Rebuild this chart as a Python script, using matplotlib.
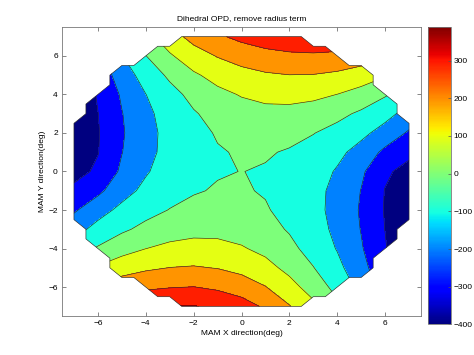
import numpy as np
import matplotlib
matplotlib.use('Agg')
import matplotlib.pyplot as plt
from matplotlib.patches import Polygon
from matplotlib import colors as mcolors

plt.rcParams['font.family'] = ['Liberation Sans', 'DejaVu Sans']
plt.rcParams['font.size'] = 6

# field grid (deg)
x_deg = [-7, -6, -5, -4, -3, -2, -1, 0, 1, 2, 3, 4, 5, 6, 7]
y_deg = [7, 6, 5, 4, 3, 2, 1, 0, -1, -2, -3, -4, -5, -6, -7]

# dihedral OPD, one row per y (top row first)
opd = [
    [-321, -182,  -52,   60,  151,  225,  277,  316,  345,  365,  376,  373,  357,  327,  284],
    [-360, -229, -108,   -7,   82,  150,  198,  233,  258,  272,  276,  267,  245,  209,  160],
    [-389, -267, -157,  -62,   12,   80,  126,  160,  181,  191,  189,  174,  145,  103,   47],
    [-404, -291, -191, -105,  -37,   22,   70,  100,  118,  123,  115,   93,   58,    5,  -53],
    [-405, -303, -206, -127,  -61,  -13,   26,   56,   68,   67,   52,   20,  -21,  -72, -140],
    [-392, -308, -212, -136,  -73,  -31,    2,   21,   27,   19,   -2,  -36,  -80, -141, -215],
    [-372, -305, -205, -131,  -73,  -37,  -11,    2,    2,  -12,  -39,  -80, -140, -225, -278],
    [-335, -285, -186, -113,  -60,  -31,  -11,   -4,  -11,  -31,  -60, -113, -186, -285, -335],
    [-278, -225, -140,  -80,  -39,  -12,    2,    2,  -11,  -37,  -73, -131, -205, -305, -372],
    [-215, -141,  -80,  -36,   -2,   19,   27,   21,    2,  -31,  -73, -136, -212, -308, -392],
    [-140,  -72,  -21,   20,   52,   67,   68,   56,   26,  -13,  -61, -127, -206, -303, -405],
    [ -53,    5,   58,   93,  116,  126,  121,  102,   70,   19,  -41, -109, -194, -293, -406],
    [  48,  105,  148,  177,  194,  200,  189,  164,  124,   68,   -2,  -78, -170, -275, -394],
    [ 162,  213,  251,  274,  287,  293,  275,  244,  196,  127,   53,  -38, -133, -245, -370],
    [ 287,  333,  366,  382,  391,  395,  371,  334,  277,  198,  116,   18,  -84, -202, -333],
]

# sampled aperture: half width (deg) of each 0.5 deg row, y = 0 ... 7
row_y = [0, 0.5, 1, 1.5, 2, 2.5, 3, 3.5, 4, 4.5, 5, 5.5, 6, 6.5, 7]
row_half = [7, 7, 7, 7, 7, 7, 6.5, 6.5, 6, 5.5, 5.5, 5, 4, 3.5, 2.5]

cmin, cmax = -400, 390


def aperture_outline():
    ys = [-y for y in row_y[:0:-1]] + row_y
    hs = row_half[:0:-1] + row_half
    # right side going up, cut the corners like a masked grid does
    pts = [(hs[0], ys[0])]
    for i in range(1, len(ys)):
        h0, h1 = hs[i - 1], hs[i]
        if h1 > h0 + 0.5:
            pts.append((h0 + 0.5, ys[i]))
        elif h1 < h0 - 0.5:
            pts.append((h1 + 0.5, ys[i - 1]))
        pts.append((h1, ys[i]))
    left = [(-px, py) for px, py in reversed(pts)]
    return pts + left


X, Y = np.meshgrid(x_deg, y_deg)
Z = np.array(opd, dtype=float)

fig = plt.figure(figsize=(4.74, 3.55), dpi=100)
ax = fig.add_axes([0.1308, 0.1099, 0.7574, 0.8141])
cax = fig.add_axes([0.903, 0.086, 0.0485, 0.839])

jet = plt.get_cmap('jet')
lev = np.linspace(cmin, cmax, 9)
fill_colors = [jet(0.0)] + [jet(k / 8) for k in range(9)]

cf = ax.contourf(X, Y, Z, levels=lev, colors=fill_colors, extend='both')
cl = ax.contour(X, Y, Z, levels=lev[1:-1], colors='#2a2a2a',
                linewidths=0.45, linestyles='solid')

outline = Polygon(aperture_outline(), closed=True, facecolor='none',
                  edgecolor='#2a2a2a', linewidth=0.45, transform=ax.transData)
ax.add_patch(outline)
cf.set_clip_path(outline)
cl.set_clip_path(outline)

ax.set_xlim(-7.5, 7.5)
ax.set_ylim(-7.5, 7.5)
ax.set_xticks([-6, -4, -2, 0, 2, 4, 6])
ax.set_yticks([-6, -4, -2, 0, 2, 4, 6])
ax.tick_params(direction='in', top=True, right=True, length=3, width=0.5,
               color='#555555', labelsize=6, pad=3)
for s in ax.spines.values():
    s.set_color('#777777')
    s.set_linewidth(0.6)

ax.set_title('Dihedral OPD, remove radius term', fontsize=6, pad=5)
ax.set_xlabel('MAM X direction(deg)', fontsize=6, labelpad=2)
ax.set_ylabel('MAM Y direction(deg)', fontsize=6, labelpad=2)

sm = plt.cm.ScalarMappable(norm=mcolors.Normalize(cmin, cmax), cmap=jet)
cb = fig.colorbar(sm, cax=cax, ticks=[-400, -300, -200, -100, 0, 100, 200, 300])
cb.ax.tick_params(direction='in', length=2, width=0.5, color='#555555',
                  labelsize=6, pad=2)
cb.outline.set_edgecolor('#777777')
cb.outline.set_linewidth(0.6)

fig.savefig('out.png', dpi=100)
